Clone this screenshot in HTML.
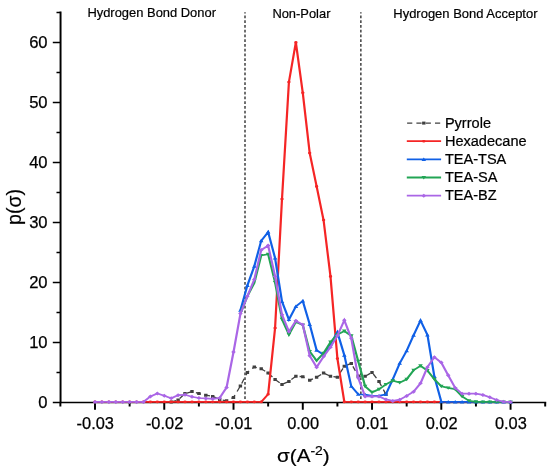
<!DOCTYPE html>
<html lang="en"><head><meta charset="utf-8"><title>Sigma profile</title>
<style>html,body{margin:0;padding:0;background:#fff}body{width:550px;height:473px;overflow:hidden}</style>
</head><body>
<svg width="550" height="473" viewBox="0 0 550 473" style="display:block;font-family:'Liberation Sans',Arial,sans-serif">
<rect width="550" height="473" fill="#fff"/>
<line x1="245.0" y1="12.2" x2="245.0" y2="402" stroke="#404040" stroke-width="1.5" stroke-dasharray="2.75 2.01" stroke-dashoffset="1.46"/>
<line x1="360.85" y1="12.2" x2="360.85" y2="402" stroke="#404040" stroke-width="1.5" stroke-dasharray="2.75 2.01" stroke-dashoffset="1.46"/>
<path d="M59.45,402.55H546.2M52.8,402.55H60.45M56.5,372.55H60.45M52.8,342.55H60.45M56.5,312.55H60.45M52.8,282.55H60.45M56.5,252.55H60.45M52.8,222.55H60.45M56.5,192.55H60.45M52.8,162.55H60.45M56.5,132.55H60.45M52.8,102.55H60.45M56.5,72.55H60.45M52.8,42.55H60.45M56.5,12.55H60.45" stroke="#000" stroke-width="1.6" fill="none"/>
<path d="M60.55,11.45V403.35M60.37,402.55V406.4M95.00,402.55V409.85M129.63,402.55V406.4M164.26,402.55V409.85M198.89,402.55V406.4M233.52,402.55V409.85M268.15,402.55V406.4M302.78,402.55V409.85M337.41,402.55V406.4M372.04,402.55V409.85M406.67,402.55V406.4M441.30,402.55V409.85M475.93,402.55V406.4M510.56,402.55V409.85M545.19,402.55V406.4" stroke="#000" stroke-width="1.95" fill="none"/>
<polyline points="171.19,401.9 178.11,400.0 185.04,393.6 191.96,391.6 198.89,393.6 205.82,395.2 212.74,396.4 219.67,399.4 226.59,400.8 233.52,397.4 240.45,385.9 247.37,372.4 254.30,366.9 261.22,368.8 268.15,373.0 275.08,379.6 282.00,384.4 288.93,381.4 295.85,376.3 302.78,376.7 309.71,380.2 316.63,377.2 323.56,373.0 330.48,376.2 337.41,377.2 344.34,366.2 351.26,363.4 358.19,376.0 365.11,376.3 372.04,372.4 378.97,381.4 385.89,394.3" fill="none" stroke="#404040" stroke-width="1.3" stroke-linejoin="miter" stroke-miterlimit="6" stroke-dasharray="5.2 4.1" stroke-dashoffset="0"/>
<path d="M169.5,400.4h3.4v3h-3.4zM176.4,398.5h3.4v3h-3.4zM183.3,392.1h3.4v3h-3.4zM190.3,390.1h3.4v3h-3.4zM197.2,392.1h3.4v3h-3.4zM204.1,393.7h3.4v3h-3.4zM211.0,394.9h3.4v3h-3.4zM218.0,397.9h3.4v3h-3.4zM224.9,399.3h3.4v3h-3.4zM231.8,395.9h3.4v3h-3.4zM238.7,384.4h3.4v3h-3.4zM245.7,370.9h3.4v3h-3.4zM252.6,365.4h3.4v3h-3.4zM259.5,367.3h3.4v3h-3.4zM266.4,371.5h3.4v3h-3.4zM273.4,378.1h3.4v3h-3.4zM280.3,382.9h3.4v3h-3.4zM287.2,379.9h3.4v3h-3.4zM294.2,374.8h3.4v3h-3.4zM301.1,375.2h3.4v3h-3.4zM308.0,378.7h3.4v3h-3.4zM314.9,375.7h3.4v3h-3.4zM321.9,371.5h3.4v3h-3.4zM328.8,374.7h3.4v3h-3.4zM335.7,375.7h3.4v3h-3.4zM342.6,364.7h3.4v3h-3.4zM349.6,361.9h3.4v3h-3.4zM356.5,374.5h3.4v3h-3.4zM363.4,374.8h3.4v3h-3.4zM370.3,370.9h3.4v3h-3.4zM377.3,379.9h3.4v3h-3.4zM384.2,392.8h3.4v3h-3.4z" fill="#404040"/>
<g transform="scale(1.3,1)">
<polyline points="73.08,401.9 78.40,401.9 83.73,401.9 89.06,401.9 94.39,401.9 99.72,401.9 105.04,401.9 110.37,401.9 115.70,401.9 121.03,401.9 126.35,401.9 131.68,401.9 137.01,401.9 142.34,401.9 147.66,401.9 152.99,401.9 158.32,401.9 163.65,401.9 168.98,401.9 174.30,401.9 179.63,401.9 184.96,401.9 190.29,401.9 195.61,401.9 200.94,401.9 206.27,394.3 211.60,328.0 216.92,199.0 222.25,82.0 227.58,42.4 232.91,92.8 238.24,153.1 243.56,186.4 248.89,220.0 254.22,276.4 259.55,358.6 264.87,401.9 270.20,401.9 275.53,401.9 280.86,401.9 286.18,401.9 291.51,401.9 296.84,401.9 302.17,401.9 307.50,401.9 312.82,401.9 318.15,401.9 323.48,401.9 328.81,401.9 334.13,401.9 339.46,401.9 344.79,401.9 350.12,401.9 355.44,401.9 360.77,401.9 366.10,401.9 371.43,401.9 376.76,401.9 382.08,401.9 387.41,401.9 392.74,401.9" fill="none" stroke="#F52525" stroke-width="1.7" stroke-linejoin="miter" stroke-miterlimit="6"/>
</g>
<path d="M93.3,401.9a1.7,1.3 0 1,0 3.4,0a1.7,1.3 0 1,0 -3.4,0zM100.2,401.9a1.7,1.3 0 1,0 3.4,0a1.7,1.3 0 1,0 -3.4,0zM107.2,401.9a1.7,1.3 0 1,0 3.4,0a1.7,1.3 0 1,0 -3.4,0zM114.1,401.9a1.7,1.3 0 1,0 3.4,0a1.7,1.3 0 1,0 -3.4,0zM121.0,401.9a1.7,1.3 0 1,0 3.4,0a1.7,1.3 0 1,0 -3.4,0zM127.9,401.9a1.7,1.3 0 1,0 3.4,0a1.7,1.3 0 1,0 -3.4,0zM134.9,401.9a1.7,1.3 0 1,0 3.4,0a1.7,1.3 0 1,0 -3.4,0zM141.8,401.9a1.7,1.3 0 1,0 3.4,0a1.7,1.3 0 1,0 -3.4,0zM148.7,401.9a1.7,1.3 0 1,0 3.4,0a1.7,1.3 0 1,0 -3.4,0zM155.6,401.9a1.7,1.3 0 1,0 3.4,0a1.7,1.3 0 1,0 -3.4,0zM162.6,401.9a1.7,1.3 0 1,0 3.4,0a1.7,1.3 0 1,0 -3.4,0zM169.5,401.9a1.7,1.3 0 1,0 3.4,0a1.7,1.3 0 1,0 -3.4,0zM176.4,401.9a1.7,1.3 0 1,0 3.4,0a1.7,1.3 0 1,0 -3.4,0zM183.3,401.9a1.7,1.3 0 1,0 3.4,0a1.7,1.3 0 1,0 -3.4,0zM190.3,401.9a1.7,1.3 0 1,0 3.4,0a1.7,1.3 0 1,0 -3.4,0zM197.2,401.9a1.7,1.3 0 1,0 3.4,0a1.7,1.3 0 1,0 -3.4,0zM204.1,401.9a1.7,1.3 0 1,0 3.4,0a1.7,1.3 0 1,0 -3.4,0zM211.0,401.9a1.7,1.3 0 1,0 3.4,0a1.7,1.3 0 1,0 -3.4,0zM218.0,401.9a1.7,1.3 0 1,0 3.4,0a1.7,1.3 0 1,0 -3.4,0zM224.9,401.9a1.7,1.3 0 1,0 3.4,0a1.7,1.3 0 1,0 -3.4,0zM231.8,401.9a1.7,1.3 0 1,0 3.4,0a1.7,1.3 0 1,0 -3.4,0zM238.7,401.9a1.7,1.3 0 1,0 3.4,0a1.7,1.3 0 1,0 -3.4,0zM245.7,401.9a1.7,1.3 0 1,0 3.4,0a1.7,1.3 0 1,0 -3.4,0zM252.6,401.9a1.7,1.3 0 1,0 3.4,0a1.7,1.3 0 1,0 -3.4,0zM259.5,401.9a1.7,1.3 0 1,0 3.4,0a1.7,1.3 0 1,0 -3.4,0zM266.4,394.3a1.7,1.3 0 1,0 3.4,0a1.7,1.3 0 1,0 -3.4,0zM273.4,328.0a1.7,1.3 0 1,0 3.4,0a1.7,1.3 0 1,0 -3.4,0zM280.3,199.0a1.7,1.3 0 1,0 3.4,0a1.7,1.3 0 1,0 -3.4,0zM287.2,82.0a1.7,1.3 0 1,0 3.4,0a1.7,1.3 0 1,0 -3.4,0zM294.2,42.4a1.7,1.3 0 1,0 3.4,0a1.7,1.3 0 1,0 -3.4,0zM301.1,92.8a1.7,1.3 0 1,0 3.4,0a1.7,1.3 0 1,0 -3.4,0zM308.0,153.1a1.7,1.3 0 1,0 3.4,0a1.7,1.3 0 1,0 -3.4,0zM314.9,186.4a1.7,1.3 0 1,0 3.4,0a1.7,1.3 0 1,0 -3.4,0zM321.9,220.0a1.7,1.3 0 1,0 3.4,0a1.7,1.3 0 1,0 -3.4,0zM328.8,276.4a1.7,1.3 0 1,0 3.4,0a1.7,1.3 0 1,0 -3.4,0zM335.7,358.6a1.7,1.3 0 1,0 3.4,0a1.7,1.3 0 1,0 -3.4,0zM342.6,401.9a1.7,1.3 0 1,0 3.4,0a1.7,1.3 0 1,0 -3.4,0zM349.6,401.9a1.7,1.3 0 1,0 3.4,0a1.7,1.3 0 1,0 -3.4,0zM356.5,401.9a1.7,1.3 0 1,0 3.4,0a1.7,1.3 0 1,0 -3.4,0zM363.4,401.9a1.7,1.3 0 1,0 3.4,0a1.7,1.3 0 1,0 -3.4,0zM370.3,401.9a1.7,1.3 0 1,0 3.4,0a1.7,1.3 0 1,0 -3.4,0zM377.3,401.9a1.7,1.3 0 1,0 3.4,0a1.7,1.3 0 1,0 -3.4,0zM384.2,401.9a1.7,1.3 0 1,0 3.4,0a1.7,1.3 0 1,0 -3.4,0zM391.1,401.9a1.7,1.3 0 1,0 3.4,0a1.7,1.3 0 1,0 -3.4,0zM398.0,401.9a1.7,1.3 0 1,0 3.4,0a1.7,1.3 0 1,0 -3.4,0zM405.0,401.9a1.7,1.3 0 1,0 3.4,0a1.7,1.3 0 1,0 -3.4,0zM411.9,401.9a1.7,1.3 0 1,0 3.4,0a1.7,1.3 0 1,0 -3.4,0zM418.8,401.9a1.7,1.3 0 1,0 3.4,0a1.7,1.3 0 1,0 -3.4,0zM425.7,401.9a1.7,1.3 0 1,0 3.4,0a1.7,1.3 0 1,0 -3.4,0zM432.7,401.9a1.7,1.3 0 1,0 3.4,0a1.7,1.3 0 1,0 -3.4,0z" fill="#F52525"/>
<g transform="scale(1.3,1)">
<polyline points="184.96,310.3 190.29,285.4 195.61,266.2 200.94,240.7 206.27,232.0 211.60,258.1 216.92,301.6 222.25,319.6 227.58,306.4 232.91,301.0 238.24,324.4 243.56,350.2 248.89,354.6 254.22,344.2 259.55,332.2 264.87,355.2 270.20,386.3 275.53,394.3 280.86,394.6 286.18,395.8 291.51,395.8 296.84,394.3 302.17,379.3 307.50,363.2 312.82,350.8 318.15,335.2 323.48,320.4 328.81,334.9 334.13,376.6 339.46,401.7 344.79,401.9 350.12,401.9 355.44,401.9 360.77,401.9 366.10,401.9 371.43,401.9 376.76,401.9 382.08,401.9 387.41,401.9 392.74,401.9" fill="none" stroke="#1060E6" stroke-width="1.7" stroke-linejoin="miter" stroke-miterlimit="6"/>
</g>
<path d="M240.4,308.4l2.3,3.4h-4.6zM247.4,283.5l2.3,3.4h-4.6zM254.3,264.3l2.3,3.4h-4.6zM261.2,238.8l2.3,3.4h-4.6zM268.1,230.1l2.3,3.4h-4.6zM275.1,256.2l2.3,3.4h-4.6zM282.0,299.7l2.3,3.4h-4.6zM288.9,317.7l2.3,3.4h-4.6zM295.9,304.5l2.3,3.4h-4.6zM302.8,299.1l2.3,3.4h-4.6zM309.7,322.5l2.3,3.4h-4.6zM316.6,348.3l2.3,3.4h-4.6zM323.6,352.7l2.3,3.4h-4.6zM330.5,342.3l2.3,3.4h-4.6zM337.4,330.3l2.3,3.4h-4.6zM344.3,353.3l2.3,3.4h-4.6zM351.3,384.4l2.3,3.4h-4.6zM358.2,392.4l2.3,3.4h-4.6zM365.1,392.7l2.3,3.4h-4.6zM372.0,393.9l2.3,3.4h-4.6zM379.0,393.9l2.3,3.4h-4.6zM385.9,392.4l2.3,3.4h-4.6zM392.8,377.4l2.3,3.4h-4.6zM399.7,361.3l2.3,3.4h-4.6zM406.7,348.9l2.3,3.4h-4.6zM413.6,333.3l2.3,3.4h-4.6zM420.5,318.5l2.3,3.4h-4.6zM427.4,333.0l2.3,3.4h-4.6zM434.4,374.7l2.3,3.4h-4.6zM441.3,399.8l2.3,3.4h-4.6zM448.2,400.0l2.3,3.4h-4.6zM455.2,400.0l2.3,3.4h-4.6zM462.1,400.0l2.3,3.4h-4.6zM469.0,400.0l2.3,3.4h-4.6zM475.9,400.0l2.3,3.4h-4.6zM482.9,400.0l2.3,3.4h-4.6zM489.8,400.0l2.3,3.4h-4.6zM496.7,400.0l2.3,3.4h-4.6zM503.6,400.0l2.3,3.4h-4.6zM510.6,400.0l2.3,3.4h-4.6z" fill="#1060E6"/>
<g transform="scale(1.3,1)">
<polyline points="184.96,313.6 190.29,296.2 195.61,283.0 200.94,255.4 206.27,254.2 211.60,282.4 216.92,319.3 222.25,334.6 227.58,322.0 232.91,325.0 238.24,351.4 243.56,360.6 248.89,353.2 254.22,342.1 259.55,334.6 264.87,331.0 270.20,335.8 275.53,361.2 280.86,386.3 286.18,392.3 291.51,389.3 296.84,384.4 302.17,380.8 307.50,382.6 312.82,379.3 318.15,370.2 323.48,365.8 328.81,370.6 334.13,379.3 339.46,386.3 344.79,387.9 350.12,389.3 355.44,396.4 360.77,400.8 366.10,401.8 371.43,401.9 376.76,401.9 382.08,401.9 387.41,401.9 392.74,401.9" fill="none" stroke="#22A555" stroke-width="1.7" stroke-linejoin="miter" stroke-miterlimit="6"/>
</g>
<path d="M261.2,257.3l2.3,-3.4h-4.6zM268.1,256.1l2.3,-3.4h-4.6zM275.1,284.3l2.3,-3.4h-4.6zM282.0,321.2l2.3,-3.4h-4.6zM288.9,336.5l2.3,-3.4h-4.6zM295.9,323.9l2.3,-3.4h-4.6zM302.8,326.9l2.3,-3.4h-4.6zM309.7,353.3l2.3,-3.4h-4.6zM316.6,362.5l2.3,-3.4h-4.6zM323.6,355.1l2.3,-3.4h-4.6zM330.5,344.0l2.3,-3.4h-4.6zM337.4,336.5l2.3,-3.4h-4.6zM344.3,332.9l2.3,-3.4h-4.6zM351.3,337.7l2.3,-3.4h-4.6zM358.2,363.1l2.3,-3.4h-4.6zM365.1,388.2l2.3,-3.4h-4.6zM372.0,394.2l2.3,-3.4h-4.6zM379.0,391.2l2.3,-3.4h-4.6zM385.9,386.3l2.3,-3.4h-4.6zM392.8,382.7l2.3,-3.4h-4.6zM399.7,384.5l2.3,-3.4h-4.6zM406.7,381.2l2.3,-3.4h-4.6zM413.6,372.1l2.3,-3.4h-4.6zM420.5,367.7l2.3,-3.4h-4.6zM427.4,372.5l2.3,-3.4h-4.6zM434.4,381.2l2.3,-3.4h-4.6zM441.3,388.2l2.3,-3.4h-4.6zM448.2,389.8l2.3,-3.4h-4.6zM455.2,391.2l2.3,-3.4h-4.6zM462.1,398.3l2.3,-3.4h-4.6zM469.0,402.7l2.3,-3.4h-4.6zM475.9,403.7l2.3,-3.4h-4.6zM482.9,403.8l2.3,-3.4h-4.6zM489.8,403.8l2.3,-3.4h-4.6zM496.7,403.8l2.3,-3.4h-4.6zM503.6,403.8l2.3,-3.4h-4.6zM510.6,403.8l2.3,-3.4h-4.6z" fill="#22A555"/>
<g transform="scale(1.3,1)">
<polyline points="73.08,401.9 78.40,401.9 83.73,401.9 89.06,401.9 94.39,401.9 99.72,401.9 105.04,401.9 110.37,401.9 115.70,396.4 121.03,393.4 126.35,395.8 131.68,398.2 137.01,395.2 142.34,394.8 147.66,396.8 152.99,398.0 158.32,398.4 163.65,398.8 168.98,397.9 174.30,387.4 179.63,352.0 184.96,313.6 190.29,296.2 195.61,279.4 200.94,250.0 206.27,245.5 211.60,276.4 216.92,314.8 222.25,331.6 227.58,320.8 232.91,324.7 238.24,355.8 243.56,367.2 248.89,356.6 254.22,347.2 259.55,335.8 264.87,320.2 270.20,338.2 275.53,377.8 280.86,396.4 286.18,396.4 291.51,396.4 296.84,399.4 302.17,400.9 307.50,399.7 312.82,395.9 318.15,391.7 323.48,383.3 328.81,367.2 334.13,357.2 339.46,362.6 344.79,375.3 350.12,387.9 355.44,393.7 360.77,393.7 366.10,393.7 371.43,394.9 376.76,397.3 382.08,400.0 387.41,401.8 392.74,401.9" fill="none" stroke="#AA66E6" stroke-width="1.7" stroke-linejoin="miter" stroke-miterlimit="6"/>
</g>
<path d="M95.0,399.9l2.3,2.0l-2.3,2.0l-2.3,-2.0zM101.9,399.9l2.3,2.0l-2.3,2.0l-2.3,-2.0zM108.9,399.9l2.3,2.0l-2.3,2.0l-2.3,-2.0zM115.8,399.9l2.3,2.0l-2.3,2.0l-2.3,-2.0zM122.7,399.9l2.3,2.0l-2.3,2.0l-2.3,-2.0zM129.6,399.9l2.3,2.0l-2.3,2.0l-2.3,-2.0zM136.6,399.9l2.3,2.0l-2.3,2.0l-2.3,-2.0zM143.5,399.9l2.3,2.0l-2.3,2.0l-2.3,-2.0zM150.4,394.4l2.3,2.0l-2.3,2.0l-2.3,-2.0zM157.3,391.4l2.3,2.0l-2.3,2.0l-2.3,-2.0zM164.3,393.8l2.3,2.0l-2.3,2.0l-2.3,-2.0zM171.2,396.2l2.3,2.0l-2.3,2.0l-2.3,-2.0zM178.1,393.2l2.3,2.0l-2.3,2.0l-2.3,-2.0zM185.0,392.8l2.3,2.0l-2.3,2.0l-2.3,-2.0zM192.0,394.8l2.3,2.0l-2.3,2.0l-2.3,-2.0zM198.9,396.0l2.3,2.0l-2.3,2.0l-2.3,-2.0zM205.8,396.4l2.3,2.0l-2.3,2.0l-2.3,-2.0zM212.7,396.8l2.3,2.0l-2.3,2.0l-2.3,-2.0zM219.7,395.9l2.3,2.0l-2.3,2.0l-2.3,-2.0zM226.6,385.4l2.3,2.0l-2.3,2.0l-2.3,-2.0zM233.5,350.0l2.3,2.0l-2.3,2.0l-2.3,-2.0zM240.4,311.6l2.3,2.0l-2.3,2.0l-2.3,-2.0zM247.4,294.2l2.3,2.0l-2.3,2.0l-2.3,-2.0zM254.3,277.4l2.3,2.0l-2.3,2.0l-2.3,-2.0zM261.2,248.0l2.3,2.0l-2.3,2.0l-2.3,-2.0zM268.1,243.5l2.3,2.0l-2.3,2.0l-2.3,-2.0zM275.1,274.4l2.3,2.0l-2.3,2.0l-2.3,-2.0zM282.0,312.8l2.3,2.0l-2.3,2.0l-2.3,-2.0zM288.9,329.6l2.3,2.0l-2.3,2.0l-2.3,-2.0zM295.9,318.8l2.3,2.0l-2.3,2.0l-2.3,-2.0zM302.8,322.7l2.3,2.0l-2.3,2.0l-2.3,-2.0zM309.7,353.8l2.3,2.0l-2.3,2.0l-2.3,-2.0zM316.6,365.2l2.3,2.0l-2.3,2.0l-2.3,-2.0zM323.6,354.6l2.3,2.0l-2.3,2.0l-2.3,-2.0zM330.5,345.2l2.3,2.0l-2.3,2.0l-2.3,-2.0zM337.4,333.8l2.3,2.0l-2.3,2.0l-2.3,-2.0zM344.3,318.2l2.3,2.0l-2.3,2.0l-2.3,-2.0zM351.3,336.2l2.3,2.0l-2.3,2.0l-2.3,-2.0zM358.2,375.8l2.3,2.0l-2.3,2.0l-2.3,-2.0zM365.1,394.4l2.3,2.0l-2.3,2.0l-2.3,-2.0zM372.0,394.4l2.3,2.0l-2.3,2.0l-2.3,-2.0zM379.0,394.4l2.3,2.0l-2.3,2.0l-2.3,-2.0zM385.9,397.4l2.3,2.0l-2.3,2.0l-2.3,-2.0zM392.8,398.9l2.3,2.0l-2.3,2.0l-2.3,-2.0zM399.7,397.7l2.3,2.0l-2.3,2.0l-2.3,-2.0zM406.7,393.9l2.3,2.0l-2.3,2.0l-2.3,-2.0zM413.6,389.7l2.3,2.0l-2.3,2.0l-2.3,-2.0zM420.5,381.3l2.3,2.0l-2.3,2.0l-2.3,-2.0zM427.4,365.2l2.3,2.0l-2.3,2.0l-2.3,-2.0zM434.4,355.2l2.3,2.0l-2.3,2.0l-2.3,-2.0zM441.3,360.6l2.3,2.0l-2.3,2.0l-2.3,-2.0zM448.2,373.3l2.3,2.0l-2.3,2.0l-2.3,-2.0zM455.2,385.9l2.3,2.0l-2.3,2.0l-2.3,-2.0zM462.1,391.7l2.3,2.0l-2.3,2.0l-2.3,-2.0zM469.0,391.7l2.3,2.0l-2.3,2.0l-2.3,-2.0zM475.9,391.7l2.3,2.0l-2.3,2.0l-2.3,-2.0zM482.9,392.9l2.3,2.0l-2.3,2.0l-2.3,-2.0zM489.8,395.3l2.3,2.0l-2.3,2.0l-2.3,-2.0zM496.7,398.0l2.3,2.0l-2.3,2.0l-2.3,-2.0zM503.6,399.8l2.3,2.0l-2.3,2.0l-2.3,-2.0zM510.6,399.9l2.3,2.0l-2.3,2.0l-2.3,-2.0z" fill="#AA66E6"/>
<g font-size="16.6" fill="#000" stroke="#000" stroke-width="0.25">
<text x="47.6" y="407.6" text-anchor="end">0</text>
<text x="47.6" y="347.6" text-anchor="end">10</text>
<text x="47.6" y="287.6" text-anchor="end">20</text>
<text x="47.6" y="227.6" text-anchor="end">30</text>
<text x="47.6" y="167.6" text-anchor="end">40</text>
<text x="47.6" y="107.6" text-anchor="end">50</text>
<text x="47.6" y="47.6" text-anchor="end">60</text>
<text x="95.3" y="428.6" font-size="16.4" text-anchor="middle">-0.03</text>
<text x="164.6" y="428.6" font-size="16.4" text-anchor="middle">-0.02</text>
<text x="233.8" y="428.6" font-size="16.4" text-anchor="middle">-0.01</text>
<text x="303.1" y="428.6" font-size="16.4" text-anchor="middle">0.00</text>
<text x="372.3" y="428.6" font-size="16.4" text-anchor="middle">0.01</text>
<text x="441.6" y="428.6" font-size="16.4" text-anchor="middle">0.02</text>
<text x="510.9" y="428.6" font-size="16.4" text-anchor="middle">0.03</text>
</g>
<g fill="#000" stroke="#000" stroke-width="0.2">
<text x="87.4" y="16.75" font-size="12.93">Hydrogen Bond Donor</text>
<text x="272.4" y="18.4" font-size="12.9">Non-Polar</text>
<text x="393.3" y="18.25" font-size="12.97">Hydrogen Bond Acceptor</text>
</g>
<text transform="translate(277.1,461.9) scale(1.16,1)" font-size="17.8" stroke="#000" stroke-width="0.2">σ(A<tspan dy="-6.5" font-size="12">-2</tspan><tspan dy="6.5">)</tspan></text>
<text transform="translate(21.1,207) rotate(-90) scale(1,1.02)" text-anchor="middle" font-size="19.5" stroke="#000" stroke-width="0.2">p(σ)</text>
<g font-size="14.55" fill="#000">
<line x1="407.1" y1="123.1" x2="440.6" y2="123.1" stroke="#404040" stroke-width="1.15" stroke-dasharray="5.2 4.1"/>
<text x="444.9" y="127.7" stroke="#000" stroke-width="0.22">Pyrrole</text>
<path d="M422.1,121.6h3.4v3h-3.4z" fill="#404040"/>
<line x1="406.8" y1="141.2" x2="441.1" y2="141.2" stroke="#F52525" stroke-width="1.8"/>
<text x="444.9" y="145.8" stroke="#000" stroke-width="0.22">Hexadecane</text>
<path d="M422.1,141.2a1.7,1.3 0 1,0 3.4,0a1.7,1.3 0 1,0 -3.4,0z" fill="#F52525"/>
<line x1="406.8" y1="159.4" x2="441.1" y2="159.4" stroke="#1060E6" stroke-width="1.8"/>
<text x="444.9" y="164.0" stroke="#000" stroke-width="0.22">TEA-TSA</text>
<path d="M423.8,157.5l2.3,3.4h-4.6z" fill="#1060E6"/>
<line x1="406.8" y1="177.5" x2="441.1" y2="177.5" stroke="#22A555" stroke-width="1.8"/>
<text x="444.9" y="182.2" stroke="#000" stroke-width="0.22">TEA-SA</text>
<path d="M423.8,179.4l2.3,-3.4h-4.6z" fill="#22A555"/>
<line x1="406.8" y1="195.7" x2="441.1" y2="195.7" stroke="#AA66E6" stroke-width="1.8"/>
<text x="444.9" y="200.3" stroke="#000" stroke-width="0.22">TEA-BZ</text>
<path d="M423.8,193.7l2.3,2.0l-2.3,2.0l-2.3,-2.0z" fill="#AA66E6"/>
</g>
</svg>
</body></html>
